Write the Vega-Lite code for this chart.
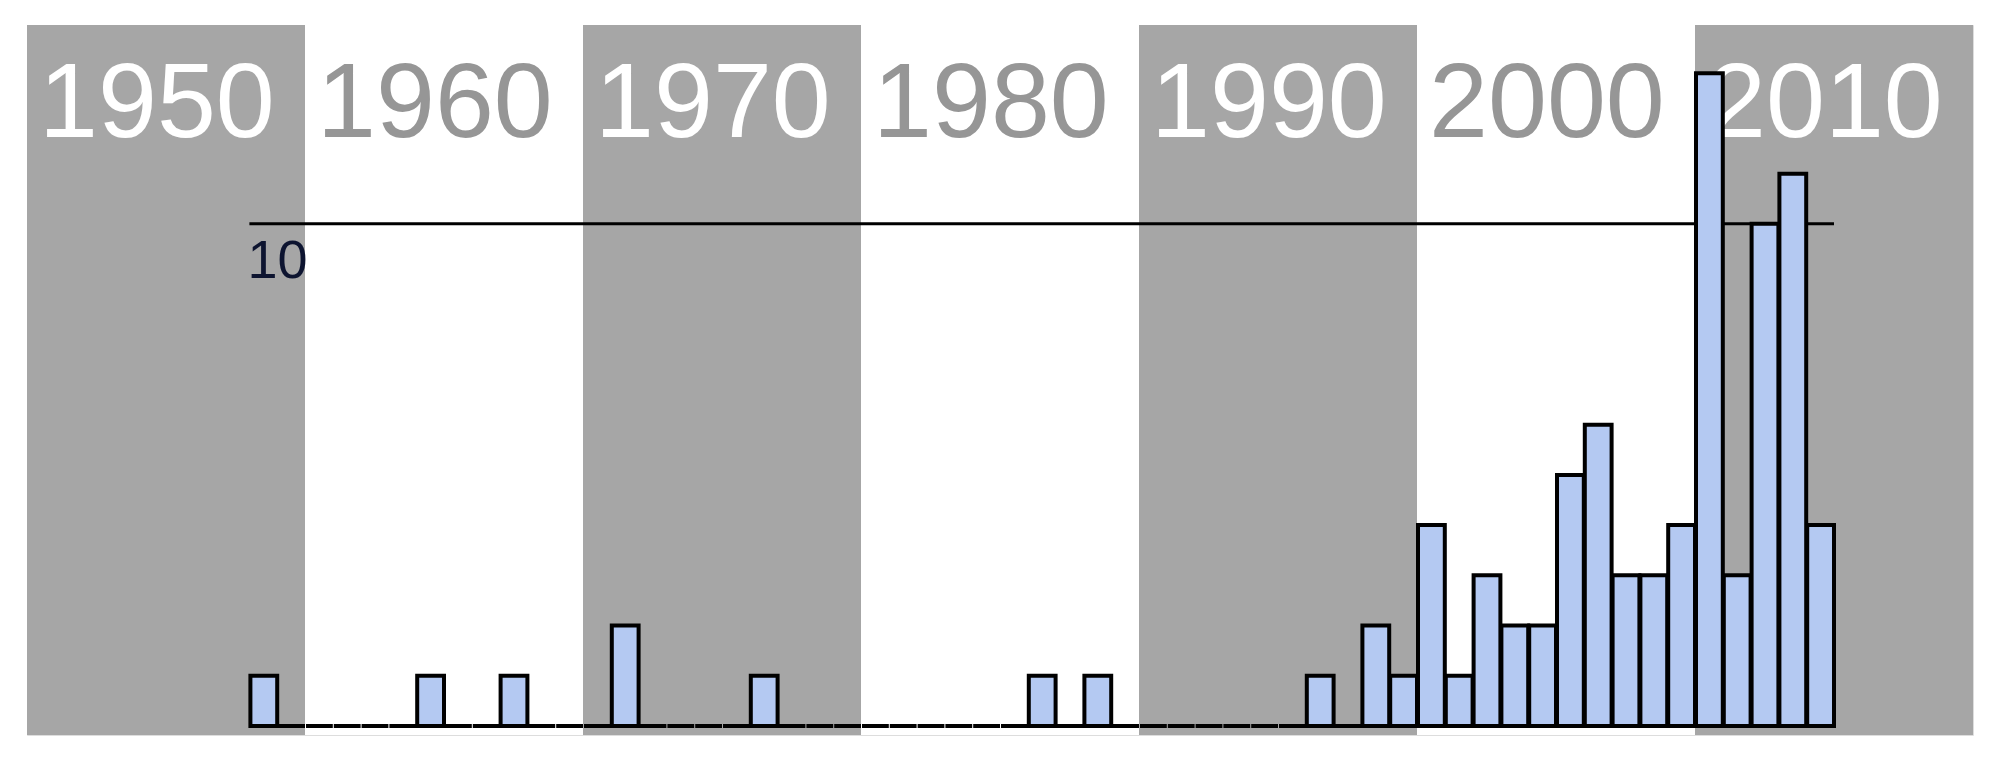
{
  "$schema": "https://vega.github.io/schema/vega-lite/v6.json",
  "width": 2000,
  "height": 766,
  "autosize": {"type": "fit", "contains": "padding"},
  "padding": {"left": 27, "top": 25, "right": 27, "bottom": 31},
  "data": {"values": [
    {"year": 1958, "count": 1}, {"year": 1959, "count": 0},
    {"year": 1960, "count": 0}, {"year": 1961, "count": 0}, {"year": 1962, "count": 0}, {"year": 1963, "count": 0}, {"year": 1964, "count": 1},
    {"year": 1965, "count": 0}, {"year": 1966, "count": 0}, {"year": 1967, "count": 1}, {"year": 1968, "count": 0}, {"year": 1969, "count": 0},
    {"year": 1970, "count": 0}, {"year": 1971, "count": 2}, {"year": 1972, "count": 0}, {"year": 1973, "count": 0}, {"year": 1974, "count": 0},
    {"year": 1975, "count": 0}, {"year": 1976, "count": 1}, {"year": 1977, "count": 0}, {"year": 1978, "count": 0}, {"year": 1979, "count": 0},
    {"year": 1980, "count": 0}, {"year": 1981, "count": 0}, {"year": 1982, "count": 0}, {"year": 1983, "count": 0}, {"year": 1984, "count": 0},
    {"year": 1985, "count": 0}, {"year": 1986, "count": 1}, {"year": 1987, "count": 0}, {"year": 1988, "count": 1}, {"year": 1989, "count": 0},
    {"year": 1990, "count": 0}, {"year": 1991, "count": 0}, {"year": 1992, "count": 0}, {"year": 1993, "count": 0}, {"year": 1994, "count": 0},
    {"year": 1995, "count": 0}, {"year": 1996, "count": 1}, {"year": 1997, "count": 0}, {"year": 1998, "count": 2}, {"year": 1999, "count": 1},
    {"year": 2000, "count": 4}, {"year": 2001, "count": 1}, {"year": 2002, "count": 3}, {"year": 2003, "count": 2}, {"year": 2004, "count": 2},
    {"year": 2005, "count": 5}, {"year": 2006, "count": 6}, {"year": 2007, "count": 3}, {"year": 2008, "count": 3}, {"year": 2009, "count": 4},
    {"year": 2010, "count": 13}, {"year": 2011, "count": 3}, {"year": 2012, "count": 10}, {"year": 2013, "count": 11}, {"year": 2014, "count": 4}
  ]},
  "layer": [
    {
      "data": {"values": [
        {"start": 1950, "end": 1960, "shade": "dark"},
        {"start": 1960, "end": 1970, "shade": "light"},
        {"start": 1970, "end": 1980, "shade": "dark"},
        {"start": 1980, "end": 1990, "shade": "light"},
        {"start": 1990, "end": 2000, "shade": "dark"},
        {"start": 2000, "end": 2010, "shade": "light"},
        {"start": 2010, "end": 2020, "shade": "dark"}
      ]},
      "mark": {"type": "rect"},
      "encoding": {
        "x": {"field": "start", "type": "quantitative", "scale": {"domain": [1950, 2020], "nice": false, "zero": false}, "axis": null},
        "x2": {"field": "end"},
        "color": {"field": "shade", "type": "nominal", "scale": {"domain": ["dark", "light"], "range": ["#a6a6a6", "#ffffff"]}, "legend": null}
      }
    },
    {
      "data": {"values": [
        {"start": 1950, "shade": "dark"},
        {"start": 1960, "shade": "light"},
        {"start": 1970, "shade": "dark"},
        {"start": 1980, "shade": "light"},
        {"start": 1990, "shade": "dark"},
        {"start": 2000, "shade": "light"},
        {"start": 2010, "shade": "dark"}
      ]},
      "mark": {"type": "text", "align": "left", "baseline": "alphabetic", "font": "Liberation Sans", "fontSize": 106, "dx": 12, "y": 112},
      "encoding": {
        "x": {"field": "start", "type": "quantitative", "axis": null},
        "text": {"field": "start", "type": "nominal"},
        "fill": {"field": "shade", "type": "nominal", "scale": {"domain": ["dark", "light"], "range": ["#ffffff", "#969696"]}, "legend": null}
      }
    },
    {
      "data": {"values": [{"level": 10, "from": 1958, "to": 2015}]},
      "mark": {"type": "rule", "color": "#000000", "strokeWidth": 3},
      "encoding": {
        "x": {"field": "from", "type": "quantitative", "axis": null},
        "x2": {"field": "to"},
        "y": {"field": "level", "type": "quantitative", "axis": null}
      }
    },
    {
      "data": {"values": [{"level": 10, "from": 1958, "to": 2015}]},
      "mark": {"type": "text", "align": "left", "baseline": "alphabetic", "font": "Liberation Sans", "fontSize": 54, "dy": 54, "dx": -2, "color": "#0d1430"},
      "encoding": {
        "x": {"field": "from", "type": "quantitative", "axis": null},
        "y": {"field": "level", "type": "quantitative", "axis": null},
        "text": {"field": "level", "type": "quantitative"}
      }
    },
    {
      "mark": {"type": "bar", "stroke": "#000000", "strokeWidth": 4, "fill": "#b4c9f2"},
      "encoding": {
        "x": {"field": "year", "type": "quantitative", "bin": {"step": 1, "extent": [1950, 2020]}, "axis": null},
        "y": {"field": "count", "type": "quantitative", "scale": {"domain": [-0.18, 13.96], "nice": false, "zero": false}, "axis": null}
      }
    }
  ]
}
